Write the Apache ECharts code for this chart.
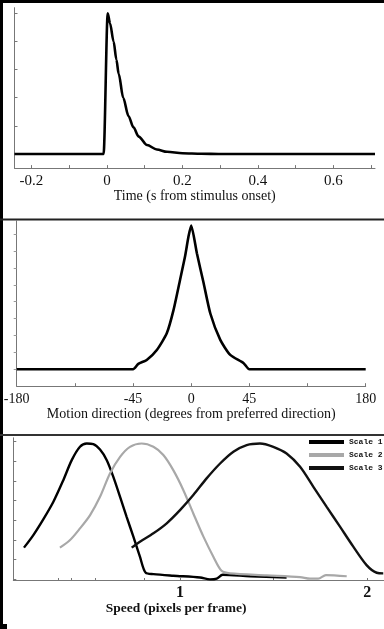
<!DOCTYPE html>
<html><head><meta charset="utf-8">
<script src="https://cdn.jsdelivr.net/npm/echarts@6/dist/echarts.min.js"></script>
<style>html,body{margin:0;padding:0;background:#fff}#c{width:384px;height:629px}</style>
</head><body><div id="c"></div>
<script>
// Panel 1: temporal response
const timeS = [-0.245, -0.009, 0.002, 0.008, 0.0175, 0.025, 0.031, 0.043, 0.057, 0.07, 0.084, 0.106, 0.132, 0.159, 0.2, 0.25, 0.3, 0.71];
const timeResp = [0, 0, 5.0, 4.65, 4.0, 3.35, 2.85, 2.0, 1.35, 0.95, 0.62, 0.32, 0.16, 0.08, 0.03, 0.01, 0, 0];
const timeTickLabels = [-0.2, 0, 0.2, 0.4, 0.6];

// Panel 2: direction tuning (degrees from preferred direction)
const dirDeg = [-180, -45, -40.9, -34.4, -26.6, -18.9, -13.7, -8.6, -4.7, -2.1, 0, 4.4, 9.6, 14.8, 22.5, 30.2, 40.6, 45, 180];
const dirResp = [0, 0, 0.32, 0.55, 1.14, 2.13, 3.5, 5.3, 6.7, 7.85, 8.5, 6.86, 5.1, 3.3, 1.74, 0.85, 0.36, 0, 0];
const dirTickLabels = [-180, -45, 0, 45, 180];

// Panel 3: speed tuning
const speedScale1 = [0.167,0.217,0.270,0.324,0.377,0.422,0.466,0.502,0.537,0.573,0.609,0.644,0.680,0.715,0.751,0.786,0.817,0.858,0.964,1.107,1.160,1.196,1.228,1.374,1.569];
const respScale1  = [1.6,2.24,3.04,3.94,5.04,6.06,6.74,6.91,6.88,6.6,6.06,5.21,4.19,3.17,2.16,1.14,0.32,0.25,0.17,0.08,-0.02,0.02,0.22,0.14,0.07];
const speedScale2 = [0.359,0.413,0.466,0.520,0.573,0.626,0.680,0.733,0.795,0.858,0.911,0.964,1.018,1.071,1.125,1.178,1.222,1.267,1.463,1.641,1.694,1.738,1.779,1.890];
const respScale2  = [1.6,1.99,2.58,3.26,4.19,5.38,6.23,6.74,6.91,6.74,6.32,5.55,4.53,3.34,2.16,1.14,0.42,0.29,0.19,0.1,0.02,0.02,0.2,0.14];
const speedScale3 = [0.742,0.786,0.858,0.929,1.0,1.071,1.142,1.214,1.285,1.356,1.427,1.498,1.569,1.641,1.712,1.783,1.854,1.925,1.996,2.050,2.085];
const respScale3  = [1.6,1.9,2.33,2.84,3.51,4.28,5.13,5.89,6.49,6.83,6.91,6.74,6.4,5.72,4.7,3.68,2.67,1.65,0.71,0.32,0.29];
const speedTickLabels = [1, 2];
const seriesNames = ['Scale 1', 'Scale 2', 'Scale 3'];

// The original direction axis is stretched: +-45 deg sits at one third of the half-axis.
function dirPos(d){ const a=Math.abs(d); const s=d<0?-1:1; return a<=45 ? d*60/45 : s*(60+(a-45)*120/135); }
function dirLabel(p){ const a=Math.abs(p); const s=p<0?-1:1; const d = a<=60 ? p*45/60 : s*(45+(a-60)*135/120); return String(Math.round(d)); }
const dirTickPos = dirTickLabels.map(dirPos);

const zip = (a,b)=>a.map((x,i)=>[x,b[i]]);
const serif = 'Liberation Serif';
const axisGrey = '#777';
const chart = echarts.init(document.getElementById('c'), null, {renderer:'canvas'});
chart.setOption({
  backgroundColor:'#fff',
  animation:false,
  grid:[
    {left:14.5, right:9, top:7.7, bottom:460.9},
    {left:16.7, right:18.3, top:220.5, bottom:242.8},
    {left:13.3, right:0, top:437.8, bottom:49}
  ],
  xAxis:[
    {gridIndex:0, type:'value', min:-0.245, max:0.71, splitLine:{show:false},
     axisLine:{onZero:false,lineStyle:{color:axisGrey,width:1}},
     axisTick:{inside:true,length:3,lineStyle:{color:axisGrey},customValues:[-0.2,-0.1,0,0.1,0.2,0.3,0.4,0.5,0.6,0.7]},
     axisLabel:{customValues:timeTickLabels,formatter:v=>String(v),fontFamily:serif,fontSize:15,color:'#111',margin:5},
     name:'Time (s from stimulus onset)', nameLocation:'middle', nameGap:19,
     nameTextStyle:{fontFamily:serif,fontSize:14,color:'#111'}},
    {gridIndex:1, type:'value', min:-180, max:180, splitLine:{show:false},
     axisLine:{onZero:false,lineStyle:{color:axisGrey,width:1}},
     axisTick:{inside:true,length:3,lineStyle:{color:axisGrey},customValues:[-180,-120,-60,0,60,120,180]},
     axisLabel:{customValues:dirTickPos,formatter:dirLabel,fontFamily:serif,fontSize:14,color:'#111',margin:6},
     name:'Motion direction (degrees from preferred direction)', nameLocation:'middle', nameGap:19,
     nameTextStyle:{fontFamily:serif,fontSize:14,color:'#111'}},
    {gridIndex:2, type:'value', min:0.11, max:2.089, splitLine:{show:false},
     axisLine:{onZero:false,lineStyle:{color:axisGrey,width:1}},
     axisTick:{inside:true,length:2,lineStyle:{color:axisGrey},customValues:[0.35,0.42,0.55,0.81,1,1.5,2]},
     axisLabel:{customValues:speedTickLabels,formatter:v=>String(v),fontFamily:serif,fontSize:16,fontWeight:'bold',color:'#111',margin:5},
     name:'Speed (pixels per frame)', nameLocation:'middle', nameGap:20,
     nameTextStyle:{fontFamily:serif,fontSize:13.5,fontWeight:'bold',color:'#111',padding:[0,45,0,0]}}
  ],
  yAxis:[
    {gridIndex:0, type:'value', min:-0.5, max:5.2, splitLine:{show:false},
     axisLine:{show:true,onZero:false,lineStyle:{color:axisGrey,width:1}},
     axisTick:{show:true,inside:true,length:3,lineStyle:{color:axisGrey},customValues:[0,1,2,3,4,5]},
     axisLabel:{show:false}},
    {gridIndex:1, type:'value', min:-1, max:8.8, splitLine:{show:false},
     axisLine:{show:true,onZero:false,lineStyle:{color:axisGrey,width:1}},
     axisTick:{show:true,inside:false,length:3,lineStyle:{color:'#999'},customValues:[0,1,2,3,4,5,6,7,8]},
     axisLabel:{show:false}},
    {gridIndex:2, type:'value', min:-0.05, max:7.2, splitLine:{show:false},
     axisLine:{show:true,onZero:false,lineStyle:{color:axisGrey,width:1}},
     axisTick:{show:true,inside:true,length:3,lineStyle:{color:axisGrey},customValues:[0,1,2,3,4,5,6,7]},
     axisLabel:{show:false}}
  ],
  legend:{orient:'vertical', left:309, top:438, width:300, itemWidth:35, itemHeight:4, icon:'rect', itemGap:5, padding:0,
    data:seriesNames, textStyle:{fontFamily:'Liberation Mono',fontSize:8,fontWeight:'bold',color:'#111',overflow:'none',width:100}},
  series:[
    {type:'line', xAxisIndex:0, yAxisIndex:0, data:zip(timeS,timeResp), symbol:'none', smooth:0.3, smoothMonotone:'x',
     lineStyle:{color:'#000',width:2.6}, itemStyle:{color:'#000'}},
    {type:'line', xAxisIndex:1, yAxisIndex:1, data:zip(dirDeg.map(dirPos),dirResp), symbol:'none', smooth:0.2,
     lineStyle:{color:'#000',width:2.6}, itemStyle:{color:'#000'}},
    {name:seriesNames[0], type:'line', xAxisIndex:2, yAxisIndex:2, data:zip(speedScale1,respScale1), symbol:'none', smooth:0.3,
     lineStyle:{color:'#000',width:2.4}, itemStyle:{color:'#000'}},
    {name:seriesNames[1], type:'line', xAxisIndex:2, yAxisIndex:2, data:zip(speedScale2,respScale2), symbol:'none', smooth:0.3,
     lineStyle:{color:'#a8a8a8',width:2.2}, itemStyle:{color:'#a8a8a8'}},
    {name:seriesNames[2], type:'line', xAxisIndex:2, yAxisIndex:2, data:zip(speedScale3,respScale3), symbol:'none', smooth:0.3,
     lineStyle:{color:'#111',width:2.4}, itemStyle:{color:'#111'}}
  ],
  graphic:[
    {type:'rect', shape:{x:0,y:0,width:384,height:3}, style:{fill:'#000'}, silent:true},
    {type:'rect', shape:{x:0,y:0,width:3,height:629}, style:{fill:'#000'}, silent:true},
    {type:'rect', shape:{x:0,y:218.5,width:384,height:2}, style:{fill:'#222'}, silent:true},
    {type:'rect', shape:{x:0,y:434,width:384,height:2}, style:{fill:'#333'}, silent:true},
    {type:'rect', shape:{x:0,y:624,width:7,height:5}, style:{fill:'#000'}, silent:true}
  ]
});
</script></body></html>
